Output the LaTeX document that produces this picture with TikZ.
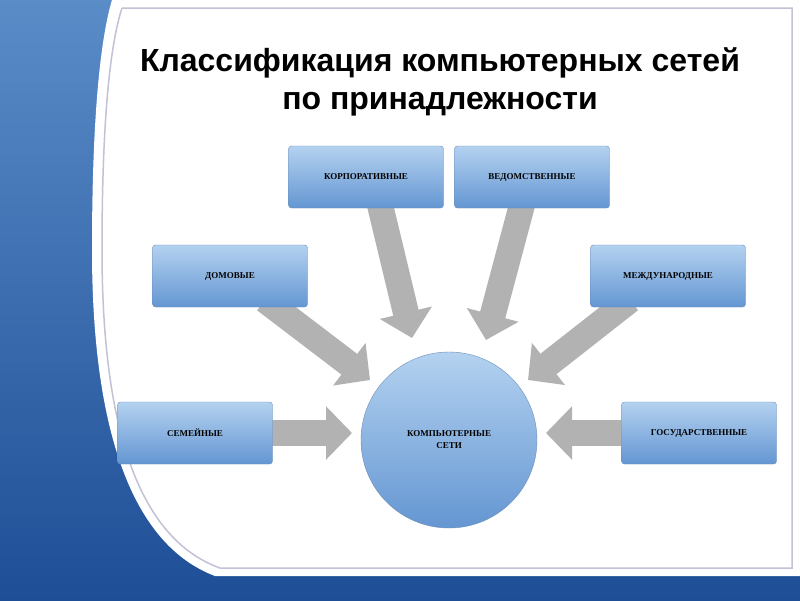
\documentclass[tikz,border=0pt]{standalone}
\usepackage{fontspec}
\setmainfont{Liberation Serif}
\newfontfamily\titlefont{Liberation Sans}
\usetikzlibrary{arrows.meta}
\definecolor{btop}{HTML}{B4D2F0}
\definecolor{bbot}{HTML}{6496D2}
\definecolor{bgtop}{HTML}{5A8CC8}
\definecolor{bgbot}{HTML}{1E4E96}
\tikzset{
 box/.style={rectangle, rounded corners=3pt, minimum width=155pt, minimum height=62pt, top color=btop, bottom color=bbot, draw=bbot!70!gray, font=\bfseries\fontsize{9pt}{10pt}\selectfont},
 blk/.style={line width=26pt, draw=gray!60, -{Triangle[width=52pt,length=26pt]}},
}
\begin{document}
\begin{tikzpicture}[x=1pt,y=-1pt]
\useasboundingbox (0,0) rectangle (800,600);
\shade[top color=bgtop, bottom color=bgbot] (0,0) rectangle (800,600);
\fill[white] (112,0) -- (800,0) -- (800,576) -- (215,576) .. controls (120,540) and (92,400) .. (92,250) .. controls (92,120) and (100,40) .. (112,0) -- cycle;
\draw[blue!20!gray!40, line width=1.5pt] (122,8) -- (792,8) -- (792,568) -- (220,568) .. controls (128,535) and (102,400) .. (102,250) .. controls (102,120) and (110,45) .. (122,8);
\node[font=\titlefont\bfseries\fontsize{32pt}{38pt}\selectfont, align=center] (t) at (440,82) {Классификация компьютерных сетей\\по принадлежности};
\coordinate (ks) at (380,205); \coordinate (vs) at (522,205);
\coordinate (ds) at (265,300); \coordinate (ms) at (630,300);
\coordinate (ke) at (412,338); \coordinate (ve) at (486,340);
\coordinate (de) at (370,380); \coordinate (me) at (528,380);
\coordinate (se) at (352,433); \coordinate (ge) at (546,433);
\coordinate (ss) at (265,433); \coordinate (gs) at (630,433);
\draw[blk] (ks) -- (ke);
\draw[blk] (vs) -- (ve);
\draw[blk] (ds) -- (de);
\draw[blk] (ms) -- (me);
\draw[blk] (ss) -- (se);
\draw[blk] (gs) -- (ge);
\node[circle, minimum size=176pt, inner sep=0pt, top color=btop, bottom color=bbot, draw=bbot!70!gray, font=\bfseries\fontsize{9pt}{12pt}\selectfont, align=center] (c) at (449,440) {КОМПЬЮТЕРНЫЕ\\СЕТИ};
\node[box] (k) at (366,177) {КОРПОРАТИВНЫЕ};
\node[box] (v) at (532,177) {ВЕДОМСТВЕННЫЕ};
\node[box] (d) at (230,276) {ДОМОВЫЕ};
\node[box] (m) at (668,276) {МЕЖДУНАРОДНЫЕ};
\node[box] (s) at (195,433) {СЕМЕЙНЫЕ};
\node[box] (g) at (699,433) {ГОСУДАРСТВЕННЫЕ};
\end{tikzpicture}
\end{document}
